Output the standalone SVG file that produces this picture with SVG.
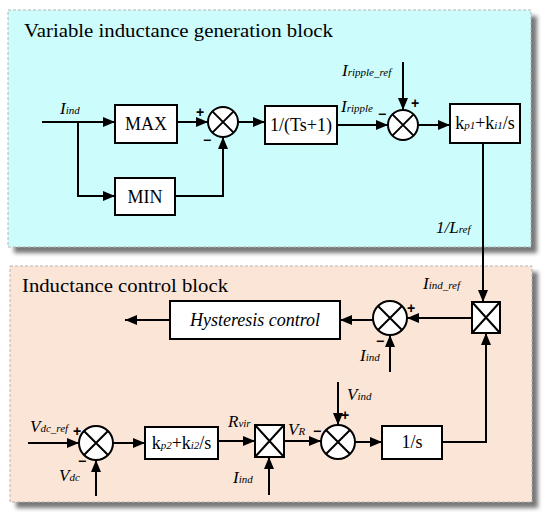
<svg xmlns="http://www.w3.org/2000/svg" width="550" height="527" viewBox="0 0 550 527">
<style>
.ln{stroke:#000;stroke-width:2;fill:none}
.bx{stroke:#000;stroke-width:2;fill:#fff}
</style>
<defs>
<marker id="ar" viewBox="0 0 12 10" refX="12" refY="5" markerWidth="12" markerHeight="10" markerUnits="userSpaceOnUse" orient="auto">
<path d="M0,0 L12,5 L0,10 Z" fill="#000"/>
</marker>
<filter id="sh" x="-5%" y="-5%" width="110%" height="110%"><feGaussianBlur stdDeviation="2"/></filter>
</defs>

<g id="panel-top">
<rect x="14" y="16" width="523" height="237" fill="#777" filter="url(#sh)"/>
<rect x="8" y="10" width="523" height="237" fill="#ccfcfc" stroke="#b4b4b4" stroke-dasharray="3,2"/>
<text font-family="'Liberation Serif', serif" x="24" y="37" font-size="18" textLength="309" lengthAdjust="spacingAndGlyphs">Variable inductance generation block</text>
</g>
<g id="panel-bottom">
<rect x="16" y="272" width="522" height="236" fill="#777" filter="url(#sh)"/>
<rect x="10" y="266" width="522" height="236" fill="#fbe5d6" stroke="#b4b4b4" stroke-dasharray="3,2"/>
<text font-family="'Liberation Serif', serif" x="22" y="292" font-size="18" textLength="206" lengthAdjust="spacingAndGlyphs">Inductance control block</text>
</g>

<g id="connectors">
<path class="ln" d="M42,122 H115" marker-end="url(#ar)"/>
<path class="ln" d="M78,122 V196 H115" marker-end="url(#ar)"/>
<path class="ln" d="M178,122 H208" marker-end="url(#ar)"/>
<path class="ln" d="M175,196 H223 V137" marker-end="url(#ar)"/>
<path class="ln" d="M238,122 H265" marker-end="url(#ar)"/>
<path class="ln" d="M337,125 H388" marker-end="url(#ar)"/>
<path class="ln" d="M403,62 V110" marker-end="url(#ar)"/>
<path class="ln" d="M418,125 H450" marker-end="url(#ar)"/>
<path class="ln" d="M483,143 V302" marker-end="url(#ar)"/>
<path class="ln" d="M472,318 H407" marker-end="url(#ar)"/>
<path class="ln" d="M390,372 V335" marker-end="url(#ar)"/>
<path class="ln" d="M373,320 H340" marker-end="url(#ar)"/>
<path class="ln" d="M170,320 H125" marker-end="url(#ar)"/>
<path class="ln" d="M28,443 H79" marker-end="url(#ar)"/>
<path class="ln" d="M96,496 V460" marker-end="url(#ar)"/>
<path class="ln" d="M113,443 H145" marker-end="url(#ar)"/>
<path class="ln" d="M218,441 H255" marker-end="url(#ar)"/>
<path class="ln" d="M269,495 V457" marker-end="url(#ar)"/>
<path class="ln" d="M284,441 H321" marker-end="url(#ar)"/>
<path class="ln" d="M338,382 V425" marker-end="url(#ar)"/>
<path class="ln" d="M355,442 H382" marker-end="url(#ar)"/>
<path class="ln" d="M442,442 H486 V333" marker-end="url(#ar)"/>
</g>

<g id="labels" font-family="'Liberation Serif', serif" font-style="italic" font-size="17">
<text x="60" y="114">I<tspan font-size="11">ind</tspan></text>
<text x="342" y="76">I<tspan font-size="11">ripple_ref</tspan></text>
<text x="341" y="112">I<tspan font-size="11">ripple</tspan></text>
<text x="436" y="233">1/L<tspan font-size="11">ref</tspan></text>
<text x="423" y="289">I<tspan font-size="11">ind_ref</tspan></text>
<text x="360" y="361">I<tspan font-size="11">ind</tspan></text>
<text x="30" y="432">V<tspan font-size="11">dc_ref</tspan></text>
<text x="59" y="481">V<tspan font-size="11">dc</tspan></text>
<text x="228" y="427">R<tspan font-size="11">vir</tspan></text>
<text x="233" y="483">I<tspan font-size="11">ind</tspan></text>
<text x="288" y="435">V<tspan font-size="11">R</tspan></text>
<text x="347" y="400">V<tspan font-size="11">ind</tspan></text>
</g>
<g id="signs" font-family="'Liberation Sans', sans-serif" font-weight="bold" font-size="14">
<text x="196" y="117">+</text>
<text x="203" y="145">−</text>
<text x="378" y="119">−</text>
<text x="411" y="108">+</text>
<text x="407" y="313">+</text>
<text x="376" y="346">−</text>
<text x="73" y="436">+</text>
<text x="78" y="466">−</text>
<text x="313" y="436">−</text>
<text x="341" y="420">+</text>
</g>

<g id="max"><rect class="bx" x="115" y="105" width="62" height="38"/><text font-family="'Liberation Serif', serif" x="146" y="130" font-size="18" text-anchor="middle">MAX</text></g>
<g id="min"><rect class="bx" x="115" y="178" width="60" height="37"/><text font-family="'Liberation Serif', serif" x="145" y="203" font-size="18" text-anchor="middle">MIN</text></g>
<g id="sum1"><circle class="bx" cx="223" cy="122" r="15"/><path class="ln" d="M212.4,111.4 L233.6,132.6 M233.6,111.4 L212.4,132.6"/></g>
<g id="lpf"><rect class="bx" x="265" y="106" width="72" height="38"/><text font-family="'Liberation Serif', serif" x="301" y="131" font-size="18" text-anchor="middle">1/(Ts+1)</text></g>
<g id="sum2"><circle class="bx" cx="403" cy="125" r="15"/><path class="ln" d="M392.4,114.4 L413.6,135.6 M413.6,114.4 L392.4,135.6"/></g>
<g id="pi1"><rect class="bx" x="450" y="104" width="70" height="39"/><text font-family="'Liberation Serif', serif" x="485" y="129" font-size="18" text-anchor="middle">k<tspan font-size="11" font-style="italic">p1</tspan>+k<tspan font-size="11" font-style="italic">i1</tspan>/s</text></g>
<g id="mult1"><rect class="bx" x="472" y="302" width="28" height="31"/><path class="ln" d="M472,302 L500,333 M500,302 L472,333"/></g>
<g id="sum3"><circle class="bx" cx="390" cy="318" r="17"/><path class="ln" d="M378,306 L402,330 M402,306 L378,330"/></g>
<g id="hyst"><rect class="bx" x="170" y="301" width="170" height="38"/><text font-family="'Liberation Serif', serif" font-style="italic" x="255" y="326" font-size="18" text-anchor="middle">Hysteresis control</text></g>
<g id="sum4"><circle class="bx" cx="96" cy="443" r="17"/><path class="ln" d="M84,431 L108,455 M108,431 L84,455"/></g>
<g id="pi2"><rect class="bx" x="145" y="427" width="73" height="32"/><text font-family="'Liberation Serif', serif" x="181.5" y="449" font-size="18" text-anchor="middle">k<tspan font-size="11" font-style="italic">p2</tspan>+k<tspan font-size="11" font-style="italic">i2</tspan>/s</text></g>
<g id="mult2"><rect class="bx" x="255" y="425" width="29" height="32"/><path class="ln" d="M255,425 L284,457 M284,425 L255,457"/></g>
<g id="sum5"><circle class="bx" cx="338" cy="442" r="17"/><path class="ln" d="M326,430 L350,454 M350,430 L326,454"/></g>
<g id="integ"><rect class="bx" x="382" y="426" width="60" height="33"/><text font-family="'Liberation Serif', serif" x="412" y="448" font-size="18" text-anchor="middle">1/s</text></g>
</svg>
